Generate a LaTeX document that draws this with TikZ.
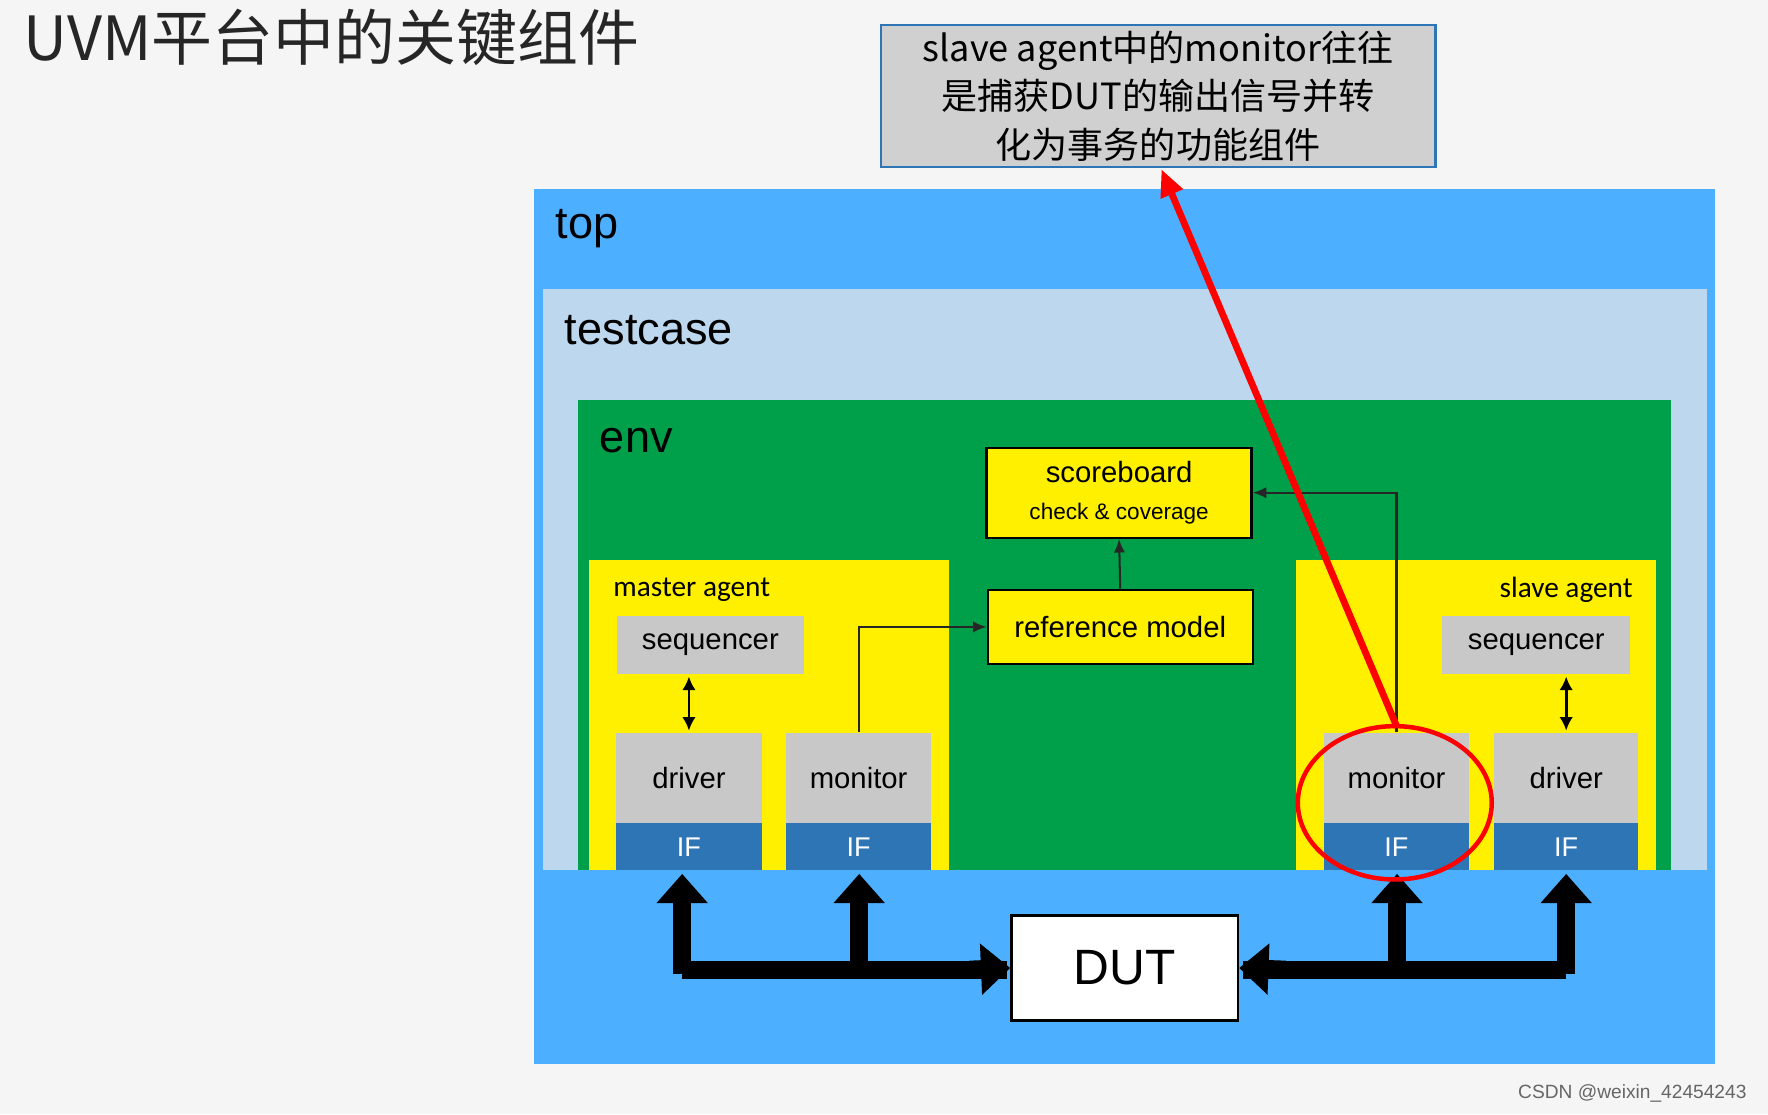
\documentclass[tikz,border=0pt]{standalone}
\usepackage{fontspec}
\setmainfont{Liberation Sans}
\newfontfamily\cjk{Noto Sans CJK SC}
\newfontfamily\calfont{Carlito}
\usetikzlibrary{fit,arrows.meta}
\definecolor{topb}{RGB}{77,175,255}
\definecolor{tcb}{RGB}{189,215,238}
\definecolor{envg}{RGB}{0,160,74}
\definecolor{ylw}{RGB}{255,240,0}
\definecolor{gry}{RGB}{200,200,200}
\definecolor{ifb}{RGB}{46,117,182}
\newcommand\bxn[5]{\node[fit={#2},inner sep=0pt,#3] (#1) {}; \node[align=center,inner sep=0pt,#3,fill=none,draw=none] at (#1.center) {#5};}
\tikzset{
 comp/.style={fill=gry,draw=none,font=\fontsize{13}{15}\selectfont},
 ifbox/.style={fill=ifb,draw=none,text=white,font=\fontsize{12}{14}\selectfont},
 ybox/.style={fill=ylw,draw=black,line width=1pt,font=\fontsize{13}{15}\selectfont},
 thin/.style={draw=black!85,line width=0.9pt,-{Latex[length=6pt,width=5pt]}},
 big/.style={line width=8pt,draw=black,-{Triangle[length=13pt,width=22pt]}},
 bigl/.style={line width=8pt,draw=black},
}
\begin{document}
\begin{tikzpicture}[x=0.5pt,y=-0.5pt]
\useasboundingbox (0,0) rectangle (1568,988);
\fill[gray!8] (0,0) rectangle (1568,988);
\node[anchor=west,font=\cjk\fontsize{27}{30}\selectfont,text=black!85] (title) at (14,33) {UVM平台中的关键组件};
\bxn{call}{(781,22)(1273,148)}{fill=gry!85!white,draw=ifb,line width=1pt,font=\cjk\fontsize{16}{21.5}\selectfont}{}{slave agent中的monitor往往\\是捕获DUT的输出信号并转\\化为事务的功能组件}
\node[fit={(474,168)(1521,944)},inner sep=0pt,fill=topb] (top) {};
\node[anchor=west,font=\fontsize{20}{24}\selectfont] at (486,203) {top};
\node[fit={(482,256)(1514,772)},inner sep=0pt,fill=tcb] (tc) {};
\node[anchor=west,font=\fontsize{20}{24}\selectfont] at (494,293) {testcase};
\node[fit={(513,355)(1482,772)},inner sep=0pt,fill=envg] (env) {};
\node[anchor=west,font=\fontsize{20}{24}\selectfont] at (525,391) {env};
\node[fit={(522,497)(842,772)},inner sep=0pt,fill=ylw] (ma) {};
\node[anchor=west,font=\calfont\fontsize{13}{14}\selectfont] at (537,523) {master agent};
\node[fit={(1149,497)(1469,772)},inner sep=0pt,fill=ylw] (sa) {};
\node[anchor=east,font=\calfont\fontsize{13}{14}\selectfont] at (1455,523) {slave agent};
\bxn{mseq}{(547,546)(713,598)}{comp}{}{sequencer}
\bxn{mdrv}{(546,650)(676,730)}{comp}{}{driver}
\bxn{mif1}{(546,730)(676,772)}{ifbox}{}{IF}
\bxn{mmon}{(697,650)(826,730)}{comp}{}{monitor}
\bxn{mif2}{(697,730)(826,772)}{ifbox}{}{IF}
\bxn{sseq}{(1279,546)(1446,598)}{comp}{}{sequencer}
\bxn{smon}{(1174,650)(1303,730)}{comp}{}{monitor}
\bxn{sif1}{(1174,730)(1303,772)}{ifbox}{}{IF}
\bxn{sdrv}{(1325,650)(1453,730)}{comp}{}{driver}
\bxn{sif2}{(1325,730)(1453,772)}{ifbox}{}{IF}
\bxn{sb}{(875,397)(1110,477)}{ybox}{}{scoreboard\\[1pt]{\fontsize{10}{12}\selectfont check \& coverage}}
\bxn{rm}{(876,523)(1111,589)}{ybox}{}{reference model}
\bxn{dut}{(897,812)(1098,905)}{fill=white,draw=black,line width=1pt,font=\fontsize{22}{26}\selectfont}{}{DUT}
% sequencer-driver
\draw[black,line width=1.2pt,{Latex[length=6pt,width=6pt]}-{Latex[length=6pt,width=6pt]}] (611,600) -- (611,648);
\draw[black,line width=1.2pt,{Latex[length=6pt,width=6pt]}-{Latex[length=6pt,width=6pt]}] (1389,600) -- (1389,648);
% monitor connections
\draw[thin] (mmon.north) |- (rm.west);
\draw[thin] (rm.north) -- (sb.south);
\draw[thin] (smon.north) |- (sb.east);
% thick buses
\draw[bigl] (605,860) -- (893,860);
\draw[big] (605,864) -- (605,775);
\draw[big] (762,860) -- (762,775);
\draw[big] (860,860) -- (dut.west);
\draw[bigl] (1102,860) -- (1389,860);
\draw[big] (1389,864) -- (1389,775);
\draw[big] (1239,860) -- (1239,775);
\draw[big] (1140,860) -- (dut.east);
% red
\draw[red,line width=2pt] (1237,712) ellipse [x radius=86,y radius=68];
\draw[red,line width=3pt,-{Triangle[length=12pt,width=10pt]}] (1239,645) -- (1030,150);
\node[anchor=east,text=black!60,font=\fontsize{8.5}{10}\selectfont] at (1556,970) {CSDN @weixin\_42454243};
\end{tikzpicture}
\end{document}
